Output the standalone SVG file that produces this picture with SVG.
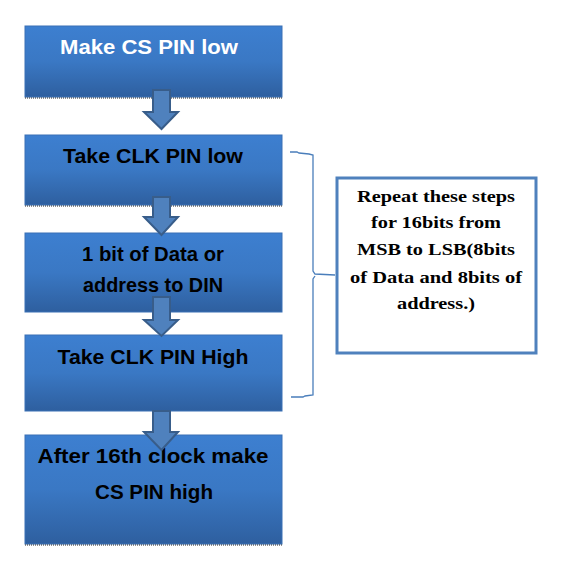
<svg xmlns="http://www.w3.org/2000/svg" width="563" height="570" viewBox="0 0 563 570">
<defs>
<linearGradient id="g" x1="0" y1="0" x2="0" y2="1">
<stop offset="0" stop-color="#3d7fd0"/>
<stop offset="0.5" stop-color="#3a78c4"/>
<stop offset="1" stop-color="#2e5f9f"/>
</linearGradient>
<style>
.box{fill:url(#g);stroke:#3a70b5;stroke-width:1}
.sh{stroke:#222;stroke-width:1;stroke-dasharray:1,1;fill:none}
.t{font-family:"Liberation Sans",Arial,sans-serif;font-weight:bold;font-size:21px;text-anchor:middle;fill:#000}
.w{fill:#fff}
.arr{fill:#4f81bd;stroke:#385d8a;stroke-width:2}
.note{fill:#fff;stroke:#4f81bd;stroke-width:3}
.nt{font-family:"Liberation Serif","Times New Roman",serif;font-weight:bold;font-size:16px;text-anchor:middle;fill:#000}
.br{fill:none;stroke:#4a7ebb;stroke-width:1.3}
</style>
</defs>
<rect width="563" height="570" fill="#fff"/>
<g id="n1">
<rect class="box" x="25" y="26" width="257" height="71"/>
<line class="sh" x1="25" y1="98" x2="282" y2="98"/>
<text class="t w" x="149" y="54" textLength="178" lengthAdjust="spacingAndGlyphs">Make CS PIN low</text>
</g>
<g id="n2">
<rect class="box" x="25" y="135" width="257" height="70"/>
<line class="sh" x1="25" y1="206" x2="282" y2="206"/>
<text class="t" x="153" y="163" textLength="180" lengthAdjust="spacingAndGlyphs">Take CLK PIN low</text>
</g>
<g id="n3">
<rect class="box" x="25" y="233" width="257" height="79"/>
<text class="t" x="153" y="261" textLength="142" lengthAdjust="spacingAndGlyphs">1 bit of Data or</text>
<text class="t" x="153" y="292" textLength="140" lengthAdjust="spacingAndGlyphs">address to DIN</text>
</g>
<g id="n4">
<rect class="box" x="25" y="335" width="257" height="76"/>
<text class="t" x="153" y="364" textLength="191" lengthAdjust="spacingAndGlyphs">Take CLK PIN High</text>
</g>
<g id="n5">
<rect class="box" x="25" y="435" width="257" height="109"/>
<line class="sh" x1="25" y1="545" x2="282" y2="545"/>
<text class="t" x="153" y="463" textLength="231" lengthAdjust="spacingAndGlyphs">After 16th clock make</text>
<text class="t" x="154" y="499" textLength="118" lengthAdjust="spacingAndGlyphs">CS PIN high</text>
</g>
<g id="connectors">
<polygon class="arr" points="153,90 170,90 170,112 178,112 161.5,129 144,112 153,112"/>
<polygon class="arr" points="153,197 170,197 170,217 178,217 161.5,235 144,217 153,217"/>
<polygon class="arr" points="153,297 170,297 170,320 178,320 161.5,336 144,320 153,320"/>
<polygon class="arr" points="153,411 170,411 170,432 178,432 161.5,450 144,432 153,432"/>
<path class="br" d="M290,152 L297,152 L299,153 L309,154 L313,155 L313,271 L315,274 L335,275 M315,276 L313,279 L313,395 L305,396 L303,397 L291,397"/>
</g>
<g id="note">
<rect class="note" x="337" y="178" width="199" height="175"/>
<text class="nt" x="436" y="202" textLength="158" lengthAdjust="spacingAndGlyphs">Repeat these steps</text>
<text class="nt" x="436" y="228" textLength="130" lengthAdjust="spacingAndGlyphs">for 16bits from</text>
<text class="nt" x="436" y="255" textLength="158" lengthAdjust="spacingAndGlyphs">MSB to LSB(8bits</text>
<text class="nt" x="436" y="283" textLength="172" lengthAdjust="spacingAndGlyphs">of Data and 8bits of</text>
<text class="nt" x="436" y="309" textLength="78" lengthAdjust="spacingAndGlyphs">address.)</text>
</g>
</svg>
